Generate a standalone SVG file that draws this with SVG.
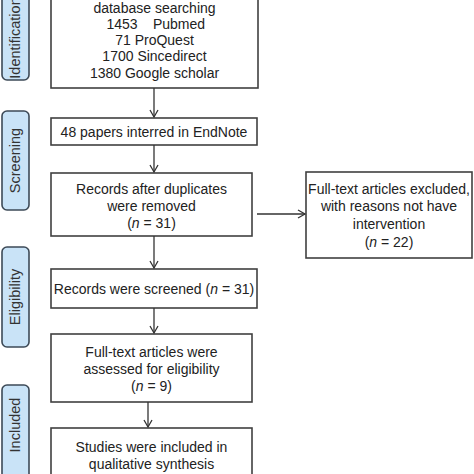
<svg xmlns="http://www.w3.org/2000/svg" width="474" height="474" viewBox="0 0 474 474">
<defs>
<marker id="arr" markerWidth="10" markerHeight="10" refX="8" refY="5" orient="auto" markerUnits="userSpaceOnUse">
<path d="M1,1 L8,5 L1,9" fill="none" stroke="#333" stroke-width="1.3"/>
</marker>
<style>
.box{fill:#fff;stroke:#404040;stroke-width:1.6}
.lab{fill:#c9e3f7;stroke:#3d4a57;stroke-width:1.6}
.t{font-family:"Liberation Sans",Arial,sans-serif;font-size:14px;fill:#222;text-anchor:middle}
.s{font-family:"Liberation Sans",Arial,sans-serif;font-size:14.5px;fill:#333;text-anchor:middle}
.c{stroke:#333;stroke-width:1.3;fill:none;marker-end:url(#arr)}
</style>
</defs>
<rect width="474" height="474" fill="#fff"/>
<g id="label-identification"><rect class="lab" x="2" y="-12" width="27" height="92" rx="5"/><text class="s" transform="translate(20,38) rotate(-90)">Identification</text></g>
<g id="label-screening"><rect class="lab" x="2" y="111" width="27" height="99" rx="5"/><text class="s" transform="translate(20,160.5) rotate(-90)">Screening</text></g>
<g id="label-eligibility"><rect class="lab" x="2" y="247" width="27" height="100" rx="5"/><text class="s" transform="translate(20,297) rotate(-90)">Eligibility</text></g>
<g id="label-included"><rect class="lab" x="2" y="385" width="27" height="100" rx="5"/><text class="s" transform="translate(20,425) rotate(-90)">Included</text></g>

<g id="node-search"><rect class="box" x="51" y="-10" width="207" height="98"/>
<text class="t" x="154.5" y="12.5">database searching</text>
<text class="t" x="154.5" y="28.5"><tspan x="122">1453</tspan><tspan x="179">Pubmed</tspan></text>
<text class="t" x="154.5" y="44.5">71 ProQuest</text>
<text class="t" x="154.5" y="61">1700  Sincedirect</text>
<text class="t" x="154.5" y="77.5">1380 Google scholar</text></g>

<g id="node-endnote"><rect class="box" x="51" y="118" width="206" height="27"/>
<text class="t" x="154" y="136.5">48 papers interred in EndNote</text></g>

<g id="node-dup"><rect class="box" x="51" y="173" width="201" height="63"/>
<text class="t" x="151.5" y="194">Records after duplicates</text>
<text class="t" x="151.5" y="211">were removed</text>
<text class="t" x="151.5" y="228">(<tspan font-style="italic">n</tspan> = 31)</text></g>

<g id="node-excluded"><rect class="box" x="306" y="172" width="166" height="86"/>
<text class="t" x="389" y="194">Full-text articles excluded,</text>
<text class="t" x="389" y="211">with reasons not have</text>
<text class="t" x="389" y="229">intervention</text>
<text class="t" x="389" y="247">(<tspan font-style="italic">n</tspan> = 22)</text></g>

<g id="node-screened"><rect class="box" x="51" y="269" width="206" height="39"/>
<text class="t" x="154" y="294">Records were screened (<tspan font-style="italic">n</tspan> = 31)</text></g>

<g id="node-eligibility"><rect class="box" x="51" y="334" width="201" height="68"/>
<text class="t" x="151.5" y="356.5">Full-text articles were</text>
<text class="t" x="151.5" y="373.5">assessed for eligibility</text>
<text class="t" x="151.5" y="390.5">(<tspan font-style="italic">n</tspan> = 9)</text></g>

<g id="node-included"><rect class="box" x="51" y="428" width="201" height="60"/>
<text class="t" x="151.5" y="451.5">Studies were included in</text>
<text class="t" x="151.5" y="468.5">qualitative synthesis</text></g>

<g id="connectors">
<line class="c" x1="154" y1="88" x2="154" y2="117"/>
<line class="c" x1="154" y1="145" x2="154" y2="172"/>
<line class="c" x1="257" y1="214" x2="305" y2="214"/>
<line class="c" x1="154" y1="236" x2="154" y2="268"/>
<line class="c" x1="154" y1="308" x2="154" y2="333"/>
<line class="c" x1="148" y1="402" x2="148" y2="427"/>
</g>
</svg>
